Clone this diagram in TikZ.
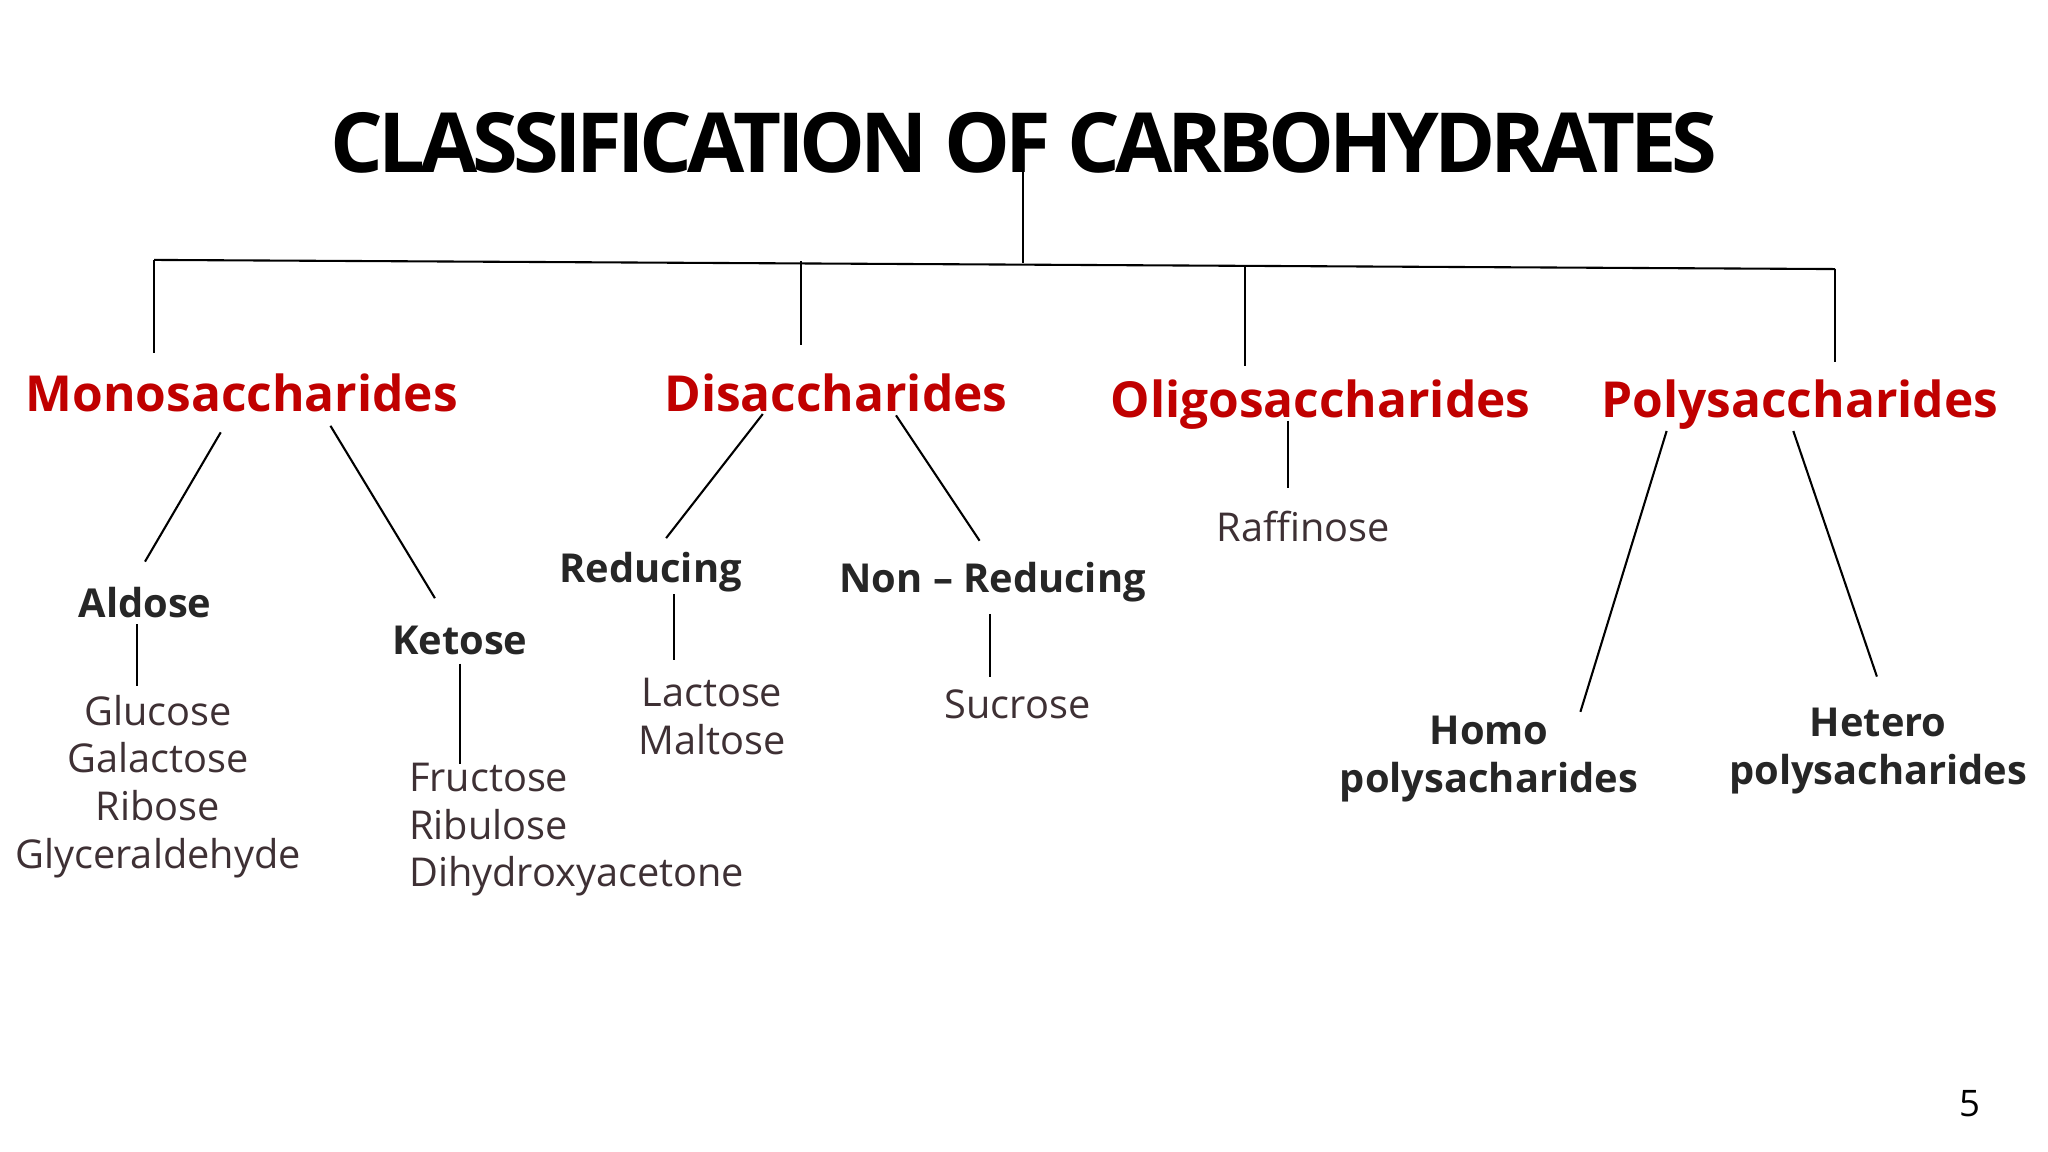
\documentclass[tikz,border=0pt]{standalone}
\usepackage{fontspec}
\setmainfont{Open Sans}
\definecolor{hred}{HTML}{C00000}
\definecolor{gtxt}{HTML}{3E3034}
\definecolor{btxt}{HTML}{262626}
\tikzset{
 head/.style={text=hred,font=\bfseries\fontsize{38}{42}\selectfont,inner sep=0},
 sub/.style={text=btxt,font=\bfseries\fontsize{30.5}{37}\selectfont,inner sep=0,align=center},
 item/.style={text=gtxt,font=\fontsize{30.4}{36.5}\selectfont,inner sep=0,align=center},
 conn/.style={line width=1.6pt,black}
}
\begin{document}
\begin{tikzpicture}[x=1pt,y=-1pt]
\useasboundingbox[fill=white] (0,0) rectangle (1568,882);
\node[inner sep=0,font=\bfseries\fontsize{63.5}{70}\selectfont,text=black] (title) at (784,109) {\addfontfeature{LetterSpace=-6}CLASSIFICATION OF CARBOHYDRATES};
\node[head] (mono) at (185,301) {Monosaccharides};
\node[head] (di) at (640,301) {Disaccharides};
\node[head] (oligo) at (1011,310) {Oligosaccharides};
\node[head] (poly) at (1378,310) {Polysaccharides};
\node[sub] (ald) at (111,461) {Aldose};
\node[sub] (ket) at (352,490) {Ketose};
\node[sub] (red) at (498,438) {Reducing};
\node[sub] (nred) at (760,446) {Non – Reducing};
\node[item] (raf) at (998,403) {Raffinose};
\node[item,anchor=north] (alist) at (121,532) {Glucose\\Galactose\\Ribose\\Glyceraldehyde};
\node[item,anchor=north west,align=left] (klist) at (313,584) {Fructose\\Ribulose\\Dihydroxyacetone};
\node[item,anchor=north] (rlist) at (545,519) {Lactose\\Maltose};
\node[item] (suc) at (779,539) {Sucrose};
\node[sub] (homo) at (1140,581) {Homo\\polysacharides};
\node[sub] (het) at (1438,575) {Hetero\\polysacharides};
\node[font=\fontsize{28}{30}\selectfont,inner sep=0] (pg) at (1508,845) {5};
\coordinate (t0) at (783,125); \coordinate (t1) at (783,201);
\coordinate (hl) at (118,199); \coordinate (hr) at (1405,206);
\coordinate (d1) at (613,200); \coordinate (d2) at (953,203);
\draw[conn] (t0) -- (t1);
\draw[conn] (hl) -- (hr);
\draw[conn] (hl) -- (118,270);
\draw[conn] (d1) -- (613,264);
\draw[conn] (d2) -- (953,280);
\draw[conn] (hr) -- (1405,277);
\draw[conn] (169,331) -- (111,430);
\draw[conn] (253,326) -- (333,458);
\draw[conn] (105,478) -- (105,525);
\draw[conn] (352,508) -- (352,585);
\draw[conn] (584,317) -- (510,412);
\draw[conn] (686,318) -- (750,414);
\draw[conn] (516,455) -- (516,505);
\draw[conn] (758,470) -- (758,518);
\draw[conn] (986,322) -- (986,374);
\draw[conn] (1276,330) -- (1210,545);
\draw[conn] (1373,330) -- (1437,518);
\end{tikzpicture}
\end{document}
